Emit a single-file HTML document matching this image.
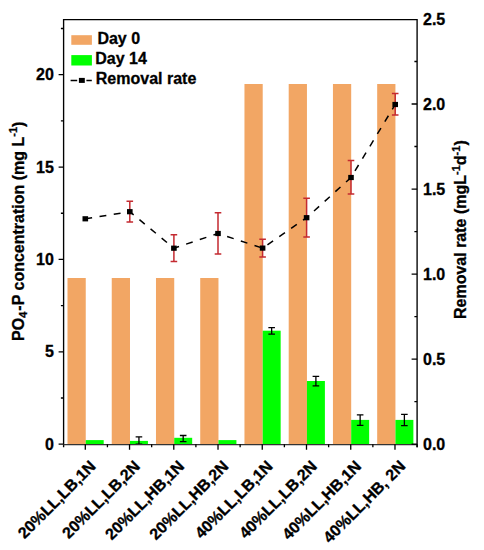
<!DOCTYPE html>
<html><head><meta charset="utf-8"><style>
html,body{margin:0;padding:0;background:#fff;width:484px;height:550px;overflow:hidden}
svg{display:block}
text{font-family:"Liberation Sans", sans-serif;font-weight:bold;fill:#000;stroke:#000;stroke-width:0.3px}
</style></head><body>
<svg width="484" height="550" viewBox="0 0 484 550">
<rect x="67.50" y="278.00" width="18.25" height="166.20" fill="#F2A664"/>
<rect x="85.75" y="440.10" width="17.95" height="4.10" fill="#00FF00"/>
<rect x="111.74" y="278.00" width="18.25" height="166.20" fill="#F2A664"/>
<rect x="129.99" y="440.90" width="17.95" height="3.30" fill="#00FF00"/>
<rect x="155.98" y="278.00" width="18.25" height="166.20" fill="#F2A664"/>
<rect x="174.23" y="437.80" width="17.95" height="6.40" fill="#00FF00"/>
<rect x="200.22" y="278.00" width="18.25" height="166.20" fill="#F2A664"/>
<rect x="218.47" y="440.10" width="17.95" height="4.10" fill="#00FF00"/>
<rect x="244.46" y="84.00" width="18.25" height="360.20" fill="#F2A664"/>
<rect x="262.71" y="330.70" width="17.95" height="113.50" fill="#00FF00"/>
<rect x="288.70" y="84.00" width="18.25" height="360.20" fill="#F2A664"/>
<rect x="306.95" y="381.00" width="17.95" height="63.20" fill="#00FF00"/>
<rect x="332.94" y="84.00" width="18.25" height="360.20" fill="#F2A664"/>
<rect x="351.19" y="419.90" width="17.95" height="24.30" fill="#00FF00"/>
<rect x="377.18" y="84.00" width="18.25" height="360.20" fill="#F2A664"/>
<rect x="395.43" y="419.90" width="17.95" height="24.30" fill="#00FF00"/>
<path d="M138.94 436.80V444.20M135.64 436.80H142.24M135.64 444.20H142.24" stroke="#000" stroke-width="1.3" fill="none"/>
<path d="M183.18 435.50V441.70M179.88 435.50H186.48M179.88 441.70H186.48" stroke="#000" stroke-width="1.3" fill="none"/>
<path d="M271.66 327.60V334.20M268.36 327.60H274.96M268.36 334.20H274.96" stroke="#000" stroke-width="1.3" fill="none"/>
<path d="M315.90 376.30V385.80M312.60 376.30H319.20M312.60 385.80H319.20" stroke="#000" stroke-width="1.3" fill="none"/>
<path d="M360.14 414.90V425.30M356.84 414.90H363.44M356.84 425.30H363.44" stroke="#000" stroke-width="1.3" fill="none"/>
<path d="M404.38 414.40V425.60M401.08 414.40H407.68M401.08 425.60H407.68" stroke="#000" stroke-width="1.3" fill="none"/>
<path d="M85.30 218.80 L129.80 211.70 L173.90 248.20 L218.00 233.50 L262.60 248.10 L306.60 217.70 L351.00 177.50 L395.20 104.50" stroke="#000" stroke-width="1.5" fill="none" stroke-dasharray="6.9 7.5" stroke-dashoffset="0"/>
<path d="M129.80 201.20V221.90M126.50 201.20H133.10M126.50 221.90H133.10" stroke="#C42A30" stroke-width="1.5" fill="none"/>
<path d="M173.90 234.70V261.40M170.60 234.70H177.20M170.60 261.40H177.20" stroke="#C42A30" stroke-width="1.5" fill="none"/>
<path d="M218.00 212.70V254.00M214.70 212.70H221.30M214.70 254.00H221.30" stroke="#C42A30" stroke-width="1.5" fill="none"/>
<path d="M262.60 239.30V256.90M259.30 239.30H265.90M259.30 256.90H265.90" stroke="#C42A30" stroke-width="1.5" fill="none"/>
<path d="M306.60 198.30V237.10M303.30 198.30H309.90M303.30 237.10H309.90" stroke="#C42A30" stroke-width="1.5" fill="none"/>
<path d="M351.00 160.40V194.00M347.70 160.40H354.30M347.70 194.00H354.30" stroke="#C42A30" stroke-width="1.5" fill="none"/>
<path d="M395.20 93.60V115.00M391.90 93.60H398.50M391.90 115.00H398.50" stroke="#C42A30" stroke-width="1.5" fill="none"/>
<rect x="82.50" y="216.20" width="5.6" height="5.2" fill="#000"/>
<rect x="127.00" y="209.10" width="5.6" height="5.2" fill="#000"/>
<rect x="171.10" y="245.60" width="5.6" height="5.2" fill="#000"/>
<rect x="215.20" y="230.90" width="5.6" height="5.2" fill="#000"/>
<rect x="259.80" y="245.50" width="5.6" height="5.2" fill="#000"/>
<rect x="303.80" y="215.10" width="5.6" height="5.2" fill="#000"/>
<rect x="348.20" y="174.90" width="5.6" height="5.2" fill="#000"/>
<rect x="392.40" y="101.90" width="5.6" height="5.2" fill="#000"/>
<path d="M63.60 447.20V19.60H417.10V447.20" stroke="#000" stroke-width="1.35" fill="none"/>
<path d="M63.00 444.65H417.70" stroke="#333" stroke-width="1.15" fill="none"/>
<path d="M58.60 444.20H63.60M58.60 351.82H63.60M58.60 259.45H63.60M58.60 167.07H63.60M58.60 74.70H63.60M60.90 398.01H63.60M60.90 305.64H63.60M60.90 213.26H63.60M60.90 120.89H63.60M60.90 28.51H63.60M85.30 444.20V449.70M129.54 444.20V449.70M173.78 444.20V449.70M218.02 444.20V449.70M262.26 444.20V449.70M306.50 444.20V449.70M350.74 444.20V449.70M394.98 444.20V449.70M107.42 444.20V447.20M151.66 444.20V447.20M195.90 444.20V447.20M240.14 444.20V447.20M284.38 444.20V447.20M328.62 444.20V447.20M372.86 444.20V447.20M417.10 444.20V447.20M411.60 444.20H417.10M411.60 359.15H417.10M411.60 274.10H417.10M411.60 189.05H417.10M411.60 104.00H417.10M414.40 401.68H417.10M414.40 316.62H417.10M414.40 231.57H417.10M414.40 146.52H417.10M414.40 61.48H417.10" stroke="#000" stroke-width="1.3" fill="none"/>
<text x="53.8" y="449.80" text-anchor="end" font-size="16">0</text>
<text x="53.8" y="357.43" text-anchor="end" font-size="16">5</text>
<text x="53.8" y="265.05" text-anchor="end" font-size="16">10</text>
<text x="53.8" y="172.67" text-anchor="end" font-size="16">15</text>
<text x="53.8" y="80.30" text-anchor="end" font-size="16">20</text>
<text x="423.0" y="449.80" font-size="16">0.0</text>
<text x="423.0" y="364.75" font-size="16">0.5</text>
<text x="423.0" y="279.70" font-size="16">1.0</text>
<text x="423.0" y="194.65" font-size="16">1.5</text>
<text x="423.0" y="109.60" font-size="16">2.0</text>
<text x="423.0" y="24.70" font-size="16">2.5</text>
<text transform="translate(96.80 467.20) rotate(-45)" x="0" y="0" text-anchor="end" font-size="16">20%LL,LB,1N</text>
<text transform="translate(141.04 467.20) rotate(-45)" x="0" y="0" text-anchor="end" font-size="16">20%LL,LB,2N</text>
<text transform="translate(185.28 467.20) rotate(-45)" x="0" y="0" text-anchor="end" font-size="16">20%LL,HB,1N</text>
<text transform="translate(229.52 467.20) rotate(-45)" x="0" y="0" text-anchor="end" font-size="16">20%LL,HB,2N</text>
<text transform="translate(273.76 467.20) rotate(-45)" x="0" y="0" text-anchor="end" font-size="16">40%LL,LB,1N</text>
<text transform="translate(318.00 467.20) rotate(-45)" x="0" y="0" text-anchor="end" font-size="16">40%LL,LB,2N</text>
<text transform="translate(362.24 467.20) rotate(-45)" x="0" y="0" text-anchor="end" font-size="16">40%LL,HB,1N</text>
<text transform="translate(406.48 467.20) rotate(-45)" x="0" y="0" text-anchor="end" font-size="16">40%LL,HB, 2N</text>
<rect x="71.3" y="35.2" width="20.6" height="9.6" fill="#F2A664"/>
<rect x="71.3" y="55.1" width="20.6" height="10.4" fill="#00FF00"/>
<path d="M70.6 80.5H77.2M86.4 80.5H91.8" stroke="#000" stroke-width="1.3"/>
<rect x="78.9" y="77.9" width="5.9" height="5.0" fill="#000"/>
<text x="97.4" y="43.9" font-size="16">Day 0</text>
<text x="95.3" y="63.6" font-size="16">Day 14</text>
<text x="95.8" y="83.8" font-size="16">Removal rate</text>
<text transform="translate(23.6 341) rotate(-90)" font-size="16">PO<tspan font-size="11.5" dy="3">4</tspan><tspan dy="-3" dx="0.8">-P concentration (mg L</tspan><tspan font-size="11" dy="-6.5">-1</tspan><tspan dy="6.5">)</tspan></text>
<text transform="translate(465.5 319.0) rotate(-90)" font-size="16">Removal rate (mgL<tspan font-size="11" dy="-6">-1</tspan><tspan dy="6">d</tspan><tspan font-size="11" dy="-6">-1</tspan><tspan dy="6">)</tspan></text>
</svg>
</body></html>
